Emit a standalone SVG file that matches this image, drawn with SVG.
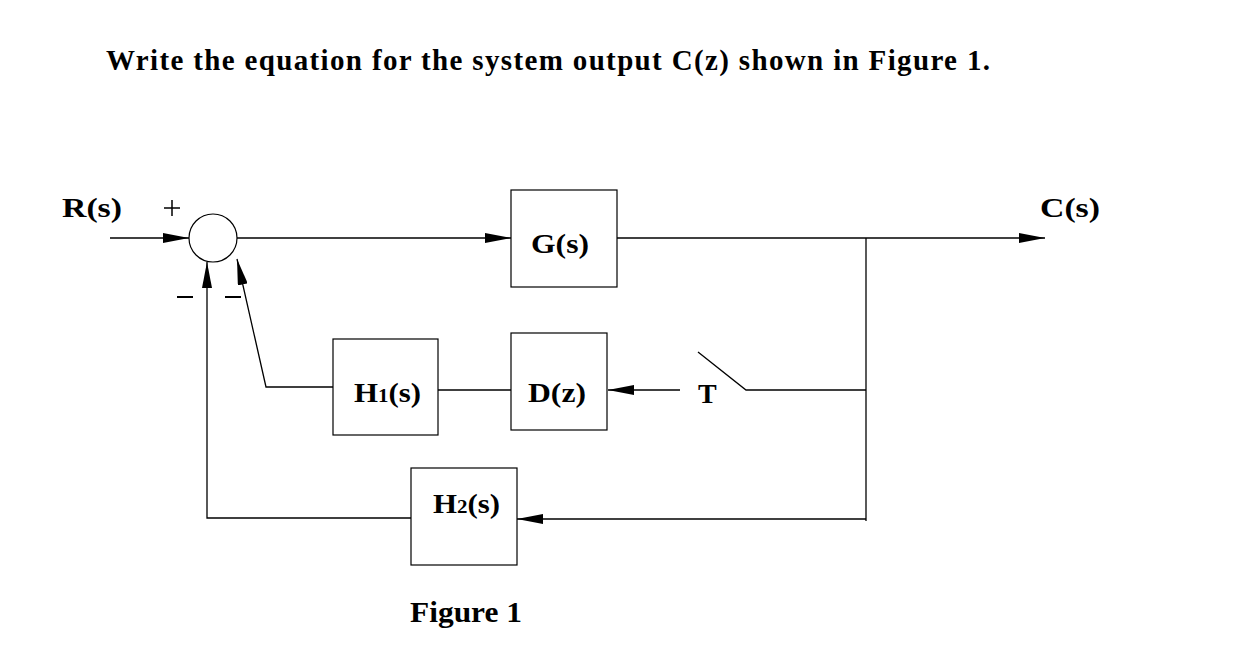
<svg xmlns="http://www.w3.org/2000/svg" width="1238" height="666" viewBox="0 0 1238 666">
<style>
text{font-family:"Liberation Serif","Times New Roman",serif;font-weight:bold;fill:#000}
.b{fill:#fff;stroke:#000;stroke-width:1.2}
.l{fill:none;stroke:#000;stroke-width:1.3}
.s{font-weight:normal;font-family:"Liberation Sans",sans-serif}
</style>
<defs><marker id="a" markerWidth="26" markerHeight="10" refX="26" refY="5" orient="auto" markerUnits="userSpaceOnUse"><path d="M0,0 L26,5 L0,10 Z" fill="#000"/></marker></defs>
<rect width="1238" height="666" fill="#fff"/>
<text x="106" y="70" font-size="29" textLength="884" lengthAdjust="spacing">Write the equation for the system output C(z) shown in Figure 1.</text>
<g id="conn">
<path class="l" d="M110,238 H189" marker-end="url(#a)"/>
<path class="l" d="M237,238 H511" marker-end="url(#a)"/>
<path class="l" d="M617,238 H1045" marker-end="url(#a)"/>
<path class="l" d="M866,238 V521"/>
<path class="l" d="M866,390 H746 L698,352"/>
<path class="l" d="M680,390 H608" marker-end="url(#a)"/>
<path class="l" d="M438,390 H511" stroke="#555"/>
<path class="l" d="M333,387 H266 L237,259" marker-end="url(#a)"/>
<path class="l" d="M866,519 H517" marker-end="url(#a)"/>
<path class="l" d="M411,518 H207 V262" marker-end="url(#a)"/>
</g>
<g id="sum"><circle cx="213" cy="238" r="24" class="b"/></g>
<text x="62" y="217" font-size="28" textLength="60" lengthAdjust="spacingAndGlyphs">R(s)</text>
<path d="M164,208 H180 M172,200 V216" stroke="#000" stroke-width="1.5"/>
<path d="M177,297 H193 M225,297 H241" stroke="#000" stroke-width="2"/>
<text x="1040" y="217" font-size="28" textLength="60" lengthAdjust="spacingAndGlyphs">C(s)</text>
<g id="G"><rect x="511" y="190" width="106" height="97" class="b"/><text x="531" y="253" font-size="28" textLength="58" lengthAdjust="spacingAndGlyphs">G(s)</text></g>
<g id="D"><rect x="511" y="333" width="96" height="97" class="b"/><text x="528" y="402" font-size="28" textLength="58" lengthAdjust="spacingAndGlyphs">D(z)</text></g>
<g id="H1"><rect x="333" y="339" width="105" height="96" class="b"/><text x="354" y="402" font-size="28" textLength="67" lengthAdjust="spacingAndGlyphs">H<tspan font-size="19">1</tspan>(s)</text></g>
<g id="H2"><rect x="411" y="468" width="106" height="97" class="b"/><text x="433" y="513" font-size="28" textLength="67" lengthAdjust="spacingAndGlyphs">H<tspan font-size="19">2</tspan>(s)</text></g>
<text x="698" y="403" font-size="28">T</text>
<text x="410" y="622" font-size="30" textLength="112" lengthAdjust="spacingAndGlyphs">Figure 1</text>
</svg>
